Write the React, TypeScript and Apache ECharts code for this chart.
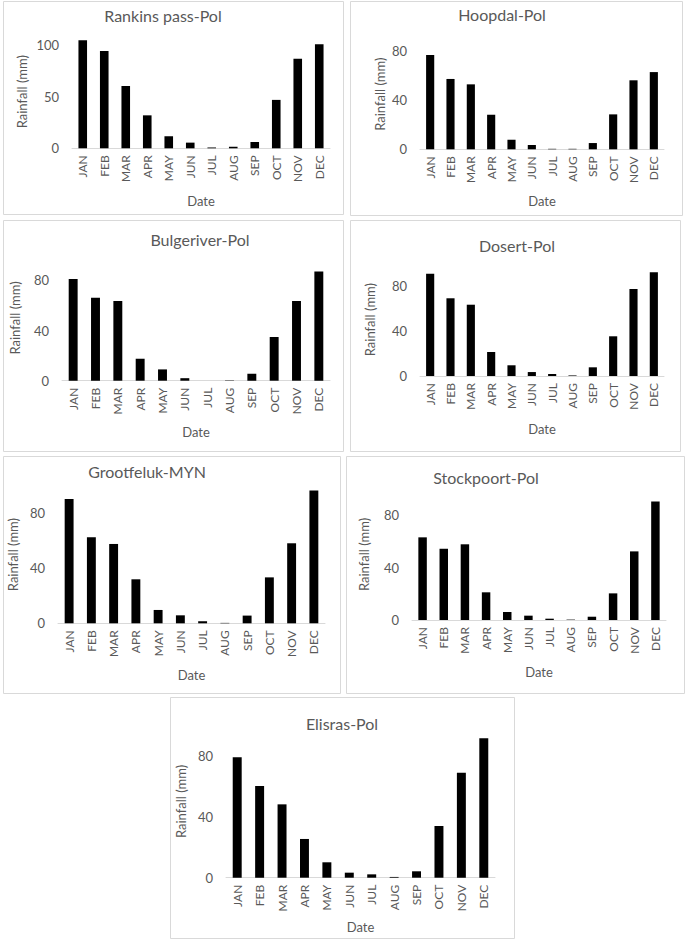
import React, { useEffect, useRef } from "react";
import * as echarts from "echarts";

const months = ["JAN", "FEB", "MAR", "APR", "MAY", "JUN", "JUL", "AUG", "SEP", "OCT", "NOV", "DEC"];

const rankinsPass = [105, 94.5, 60.5, 32, 11.7, 5.5, 0.8, 1.5, 6, 47, 87, 101];
const hoopdal = [77, 57.4, 53, 28.2, 7.8, 3.5, 0.4, 0.4, 5.1, 28.5, 56.3, 63];
const bulgeriver = [81, 66, 63.5, 17.5, 9, 2, 0, 0.3, 5.6, 34.8, 63.5, 87];
const dosert = [90.7, 68.9, 63.2, 21.3, 9.5, 3.5, 1.8, 0.5, 7.7, 35.2, 77.1, 91.9];
const grootfeluk = [90.4, 62.5, 57.7, 32, 9.7, 5.8, 1.5, 0.3, 5.6, 33.4, 58.2, 96.5];
const stockpoort = [63, 54.3, 57.7, 21.1, 6.1, 3.3, 1, 0.3, 2.5, 20.3, 52.3, 90.4];
const elisras = [79, 60.1, 48.1, 25.4, 10.1, 3.3, 2.2, 0.5, 4.2, 33.9, 68.9, 91.4];

const titles = ["Rankins pass-Pol", "Hoopdal-Pol", "Bulgeriver-Pol", "Dosert-Pol", "Grootfeluk-MYN", "Stockpoort-Pol", "Elisras-Pol"];
const seriesData = [rankinsPass, hoopdal, bulgeriver, dosert, grootfeluk, stockpoort, elisras];
const yMax = [110, 90, 100, 100, 100, 100, 100];
const yInterval = [50, 40, 40, 40, 40, 40, 40];

const FONT = "Lato, 'Open Sans', sans-serif";
const TEXT = "#595959";

// layout: panel boxes, plot areas, title centres, axis-name gaps
const layout = [
  { box: [3, 1, 340, 213], grid: [72, 35, 258, 113.3], title: [163, 15], yGap: 44, xGap: 46 },
  { box: [350, 1, 332, 214], grid: [420, 39, 244, 110.3], title: [502, 14], yGap: 34, xGap: 45 },
  { box: [3, 220, 340, 231], grid: [62, 255.2, 268, 125.5], title: [200, 239], yGap: 41, xGap: 45 },
  { box: [350, 220, 330, 231], grid: [420, 263.2, 244, 112.8], title: [517, 245.5], yGap: 44, xGap: 46 },
  { box: [3, 456, 337, 237], grid: [58, 485.8, 267, 137.5], title: [147, 471], yGap: 39, xGap: 45 },
  { box: [346, 456, 338, 237], grid: [412, 488.8, 254, 131.2], title: [486, 477.5], yGap: 42, xGap: 45 },
  { box: [170, 697, 344, 241], grid: [226, 725.2, 269, 152.5], title: [342, 723.3], yGap: 39, xGap: 43 },
];

export default function App() {
  const ref = useRef<HTMLDivElement>(null);
  useEffect(() => {
    if (!ref.current) return;
    const chart = echarts.init(ref.current, undefined, { renderer: "svg" });
    const option: any = {
      animation: false,
      backgroundColor: "#ffffff",
      textStyle: { fontFamily: FONT },
      title: layout.map((l, i) => ({
        text: titles[i],
        left: l.title[0],
        top: l.title[1] - 10,
        textAlign: "center",
        padding: 0,
        textStyle: { fontFamily: FONT, fontSize: 16, fontWeight: "normal", color: TEXT, lineHeight: 20 },
      })),
      graphic: layout.map((l) => ({
        type: "rect",
        silent: true,
        shape: { x: l.box[0] + 0.5, y: l.box[1] + 0.5, width: l.box[2], height: l.box[3] },
        style: { fill: "none", stroke: "#d9d9d9", lineWidth: 1 },
      })),
      grid: layout.map((l) => ({
        left: l.grid[0],
        top: l.grid[1],
        width: l.grid[2],
        height: l.grid[3],
        containLabel: false,
      })),
      xAxis: layout.map((l, i) => ({
        type: "category",
        gridIndex: i,
        data: months,
        name: "Date",
        nameLocation: "middle",
        nameGap: l.xGap,
        nameTextStyle: { fontFamily: FONT, fontSize: 13, color: TEXT },
        axisLine: { lineStyle: { color: "#d9d9d9", width: 1 } },
        axisTick: { show: false },
        axisLabel: { rotate: 90, interval: 0, margin: 7, fontFamily: FONT, fontSize: 12, color: TEXT },
      })),
      yAxis: layout.map((l, i) => ({
        type: "value",
        gridIndex: i,
        min: 0,
        max: yMax[i],
        interval: yInterval[i],
        name: "Rainfall (mm)",
        nameLocation: "middle",
        nameRotate: 90,
        nameGap: l.yGap,
        nameTextStyle: { fontFamily: FONT, fontSize: 13, color: TEXT },
        axisLine: { show: false },
        axisTick: { show: false },
        splitLine: { show: false },
        axisLabel: {
          margin: 13,
          fontFamily: FONT,
          fontSize: 13,
          color: TEXT,
          formatter: (v: number) => (v % yInterval[i] === 0 ? String(v) : ""),
        },
      })),
      series: seriesData.map((d, i) => ({
        type: "bar",
        name: titles[i],
        xAxisIndex: i,
        yAxisIndex: i,
        data: d,
        barWidth: "40%",
        itemStyle: { color: "#000000" },
      })),
    };
    chart.setOption(option);
    return () => chart.dispose();
  }, []);
  return (
    <div
      ref={ref}
      style={{ position: "absolute", left: 0, top: 0, width: 685, height: 939, background: "#fff" }}
    />
  );
}
